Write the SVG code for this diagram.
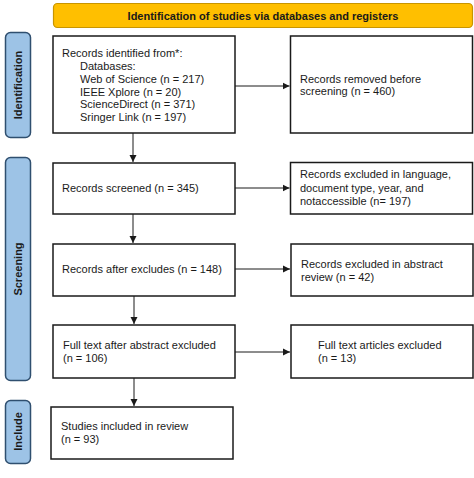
<svg xmlns="http://www.w3.org/2000/svg" width="474" height="478" viewBox="0 0 474 478">
<defs>
<style>
.box{fill:#fff;stroke:#1a1a1a;stroke-width:1.5}
.side{fill:#9dc3e6;stroke:#2f4f6f;stroke-width:1.5}
.banner{fill:#ffbf00;stroke:#c89500;stroke-width:1.2}
.t{font-family:"Liberation Sans",Arial,sans-serif;font-size:11px;fill:#1a1a1a}
.b{font-family:"Liberation Sans",Arial,sans-serif;font-size:11px;font-weight:bold;fill:#1a1a1a}
.c{stroke:#1a1a1a;stroke-width:1;fill:none;marker-end:url(#ah)}
</style>
<marker id="ah" markerWidth="8" markerHeight="8" refX="7" refY="4" orient="auto" markerUnits="userSpaceOnUse">
<path d="M0,0.5 L7,4 L0,7.5 Z" fill="#1a1a1a"/>
</marker>
</defs>
<rect width="474" height="478" fill="#fff"/>
<g id="banner">
<rect class="banner" x="53.5" y="3.5" width="419" height="24" rx="4"/>
<text class="b" x="263" y="20" text-anchor="middle">Identification of studies via databases and registers</text>
</g>
<g id="side-identification">
<rect class="side" x="5.5" y="32.5" width="25" height="105" rx="5"/>
<text class="b" transform="translate(22,85) rotate(-90)" text-anchor="middle">Identification</text>
</g>
<g id="side-screening">
<rect class="side" x="5.5" y="157.5" width="25" height="223" rx="5"/>
<text class="b" transform="translate(22,269) rotate(-90)" text-anchor="middle">Screening</text>
</g>
<g id="side-include">
<rect class="side" x="5.5" y="400.5" width="25" height="63" rx="5"/>
<text class="b" transform="translate(22,431.5) rotate(-90)" text-anchor="middle">Include</text>
</g>
<g id="records-identified">
<rect class="box" x="53" y="36" width="182" height="97"/>
<text class="t" x="62" y="57">Records identified from*:</text>
<text class="t" x="80" y="70">Databases:</text>
<text class="t" x="80" y="83">Web of Science (n = 217)</text>
<text class="t" x="80" y="95.5">IEEE Xplore (n = 20)</text>
<text class="t" x="80" y="108">ScienceDirect (n = 371)</text>
<text class="t" x="80" y="120.5">Sringer Link (n = 197)</text>
</g>
<g id="records-removed">
<rect class="box" x="290.5" y="36" width="182" height="97"/>
<text class="t" x="300" y="83">Records removed before</text>
<text class="t" x="300" y="95">screening (n = 460)</text>
</g>
<g id="records-screened">
<rect class="box" x="53" y="163" width="182" height="51"/>
<text class="t" x="62" y="192">Records screened (n = 345)</text>
</g>
<g id="records-excluded-lang">
<rect class="box" x="290.5" y="162.5" width="182" height="51.5"/>
<text class="t" x="300" y="178">Records excluded in language,</text>
<text class="t" x="300" y="191.5">document type, year, and</text>
<text class="t" x="300" y="205">notaccessible (n= 197)</text>
</g>
<g id="records-after">
<rect class="box" x="53" y="244" width="182" height="52"/>
<text class="t" x="62" y="273">Records after excludes (n = 148)</text>
</g>
<g id="records-excluded-abstract">
<rect class="box" x="291" y="244" width="182" height="52"/>
<text class="t" x="301" y="267.5">Records excluded in abstract</text>
<text class="t" x="301" y="281">review (n = 42)</text>
</g>
<g id="full-text">
<rect class="box" x="53" y="325" width="182" height="53"/>
<text class="t" x="63" y="349">Full text after abstract excluded</text>
<text class="t" x="63" y="362">(n = 106)</text>
</g>
<g id="full-text-excluded">
<rect class="box" x="291" y="325" width="182" height="53"/>
<text class="t" x="318" y="349">Full text articles excluded</text>
<text class="t" x="318" y="362">(n = 13)</text>
</g>
<g id="studies-included">
<rect class="box" x="51" y="407" width="182" height="52"/>
<text class="t" x="61" y="430">Studies included in review</text>
<text class="t" x="61" y="443">(n = 93)</text>
</g>
<g id="connectors">
<line class="c" x1="235" y1="86" x2="289.5" y2="86"/>
<line class="c" x1="133" y1="133" x2="133" y2="162"/>
<line class="c" x1="235" y1="188" x2="289.5" y2="188"/>
<line class="c" x1="133" y1="214" x2="133" y2="243"/>
<line class="c" x1="235" y1="269" x2="290" y2="269"/>
<line class="c" x1="134" y1="296" x2="134" y2="324"/>
<line class="c" x1="235" y1="352" x2="290" y2="352"/>
<line class="c" x1="134" y1="378" x2="134" y2="406"/>
</g>
</svg>
